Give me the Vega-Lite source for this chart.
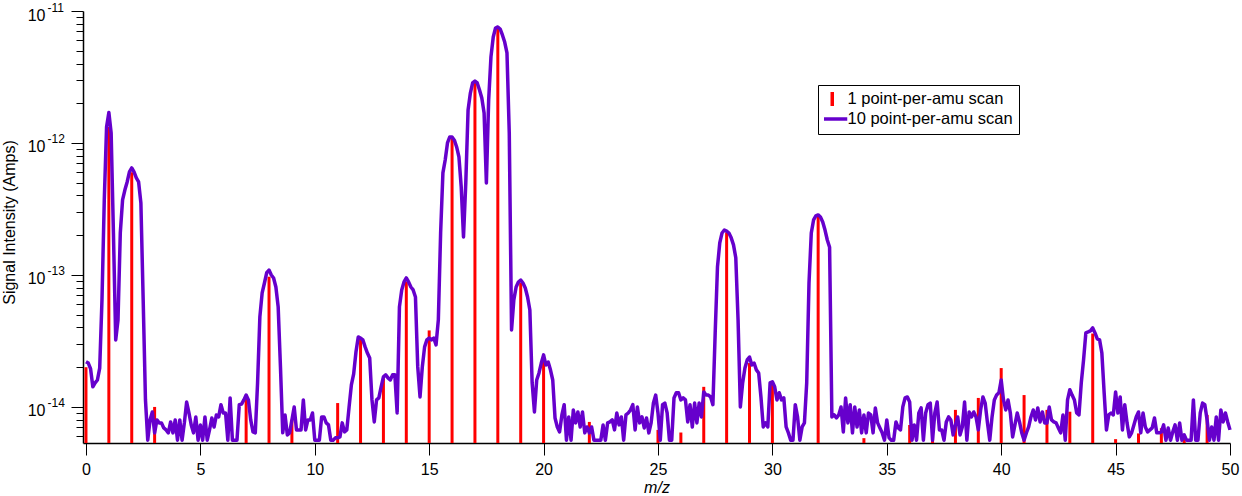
{
"$schema": "https://vega.github.io/schema/vega-lite/v6.json",
"width": 1147, "height": 432,
"autosize": {"type": "none"},
"padding": {"left": 83, "top": 11, "right": 12, "bottom": 53},
"background": "white",
"config": {"view": {"stroke": null}, "font": "Liberation Sans", "axis": {"grid": false}},
"datasets": {
"sticks": [
{"mz":0,"v":2.0e-14},{"mz":1,"v":1.32e-12},{"mz":2,"v":6.0e-13},{"mz":3,"v":1.0e-14},{"mz":7,"v":1.2e-14},{"mz":8,"v":9.7e-14},{"mz":9,"v":8.0e-15},{"mz":11,"v":1.07e-14},{"mz":12,"v":3.3e-14},{"mz":13,"v":1.65e-14},{"mz":14,"v":8.9e-14},{"mz":15,"v":3.8e-14},{"mz":16,"v":1.08e-12},{"mz":17,"v":2.9e-12},{"mz":18,"v":7.4e-12},{"mz":19,"v":8.7e-14},{"mz":20,"v":2.3e-14},{"mz":22,"v":7.7e-15},{"mz":25,"v":6.7e-15},{"mz":26,"v":6.4e-15},{"mz":27,"v":1.42e-14},{"mz":28,"v":2.1e-13},{"mz":29,"v":2.15e-14},{"mz":30,"v":1.47e-14},{"mz":32,"v":2.75e-13},{"mz":34,"v":5.8e-15},{"mz":36,"v":7.3e-15},{"mz":37,"v":6.0e-15},{"mz":38,"v":9.5e-15},{"mz":39,"v":1.17e-14},{"mz":40,"v":1.97e-14},{"mz":41,"v":1.23e-14},{"mz":42,"v":9.5e-15},{"mz":43,"v":9.2e-15},{"mz":44,"v":3.6e-14},{"mz":45,"v":5.7e-15},{"mz":46,"v":6.3e-15},{"mz":47,"v":6.9e-15},{"mz":48,"v":6.1e-15},{"mz":49,"v":8.7e-15}
],
"scan": [
{"mz":0,"v":2.2e-14},{"mz":0.1,"v":2.15e-14},{"mz":0.2,"v":1.95e-14},{"mz":0.3,"v":1.42e-14},{"mz":0.4,"v":1.52e-14},{"mz":0.5,"v":1.6e-14},{"mz":0.6,"v":1.97e-14},{"mz":0.7,"v":6.5e-14},{"mz":0.8,"v":3.7e-13},{"mz":0.9,"v":1.32e-12},
{"mz":1,"v":1.7e-12},{"mz":1.1,"v":1.19e-12},{"mz":1.2,"v":2.08e-13},{"mz":1.3,"v":3.22e-14},{"mz":1.4,"v":4.56e-14},{"mz":1.5,"v":2.08e-13},{"mz":1.6,"v":3.7e-13},{"mz":1.7,"v":4.4e-13},{"mz":1.8,"v":5.07e-13},{"mz":1.9,"v":6.03e-13},
{"mz":2,"v":6.47e-13},{"mz":2.1,"v":6.03e-13},{"mz":2.2,"v":5.43e-13},{"mz":2.3,"v":5.07e-13},{"mz":2.4,"v":3.51e-13},{"mz":2.5,"v":6.47e-14},{"mz":2.6,"v":1.13e-14},{"mz":2.7,"v":5.6e-15},{"mz":2.8,"v":7.97e-15},{"mz":2.9,"v":9.16e-15},
{"mz":3,"v":6.36e-15},{"mz":3.1,"v":7.97e-15},{"mz":3.2,"v":7.57e-15},{"mz":3.3,"v":7.57e-15},{"mz":3.4,"v":6.93e-15},{"mz":3.5,"v":6.7e-15},{"mz":3.6,"v":6.36e-15},{"mz":3.7,"v":7.7e-15},{"mz":3.8,"v":6.36e-15},{"mz":3.9,"v":7.97e-15},
{"mz":4,"v":5.6e-15},{"mz":4.1,"v":7.97e-15},{"mz":4.2,"v":5.6e-15},{"mz":4.3,"v":7.57e-15},{"mz":4.4,"v":1.09e-14},{"mz":4.5,"v":9.0e-15},{"mz":4.6,"v":7.31e-15},{"mz":4.7,"v":6.36e-15},{"mz":4.8,"v":8.4e-15},{"mz":4.9,"v":5.6e-15},
{"mz":5,"v":7.31e-15},{"mz":5.1,"v":5.6e-15},{"mz":5.2,"v":8.4e-15},{"mz":5.3,"v":5.6e-15},{"mz":5.4,"v":6.7e-15},{"mz":5.5,"v":8.25e-15},{"mz":5.6,"v":7.05e-15},{"mz":5.7,"v":8.7e-15},{"mz":5.8,"v":8.4e-15},{"mz":5.9,"v":1.04e-14},
{"mz":6,"v":9.0e-15},{"mz":6.1,"v":9.0e-15},{"mz":6.2,"v":5.6e-15},{"mz":6.3,"v":1.17e-14},{"mz":6.4,"v":5.6e-15},{"mz":6.5,"v":5.6e-15},{"mz":6.6,"v":5.6e-15},{"mz":6.7,"v":1.04e-14},{"mz":6.8,"v":1.05e-14},{"mz":6.9,"v":1.13e-14},
{"mz":7,"v":1.23e-14},{"mz":7.1,"v":1.13e-14},{"mz":7.2,"v":7.97e-15},{"mz":7.3,"v":6.47e-15},{"mz":7.4,"v":6.36e-15},{"mz":7.5,"v":1.52e-14},{"mz":7.6,"v":4.81e-14},{"mz":7.7,"v":7.31e-14},{"mz":7.8,"v":8.69e-14},{"mz":7.9,"v":1.04e-13},
{"mz":8,"v":1.09e-13},{"mz":8.1,"v":1.0e-13},{"mz":8.2,"v":9.49e-14},{"mz":8.3,"v":8.1e-14},{"mz":8.4,"v":5.73e-14},{"mz":8.5,"v":2.01e-14},{"mz":8.6,"v":6.36e-15},{"mz":8.7,"v":8.7e-15},{"mz":8.8,"v":6.14e-15},{"mz":8.9,"v":6.36e-15},
{"mz":9,"v":7.97e-15},{"mz":9.1,"v":1.0e-14},{"mz":9.2,"v":6.7e-15},{"mz":9.3,"v":6.7e-15},{"mz":9.4,"v":6.7e-15},{"mz":9.5,"v":1.13e-14},{"mz":9.6,"v":6.7e-15},{"mz":9.7,"v":7.97e-15},{"mz":9.8,"v":7.97e-15},{"mz":9.9,"v":9.0e-15},
{"mz":10,"v":5.6e-15},{"mz":10.1,"v":5.6e-15},{"mz":10.2,"v":5.6e-15},{"mz":10.3,"v":8.4e-15},{"mz":10.4,"v":8.4e-15},{"mz":10.5,"v":7.57e-15},{"mz":10.6,"v":7.31e-15},{"mz":10.7,"v":5.6e-15},{"mz":10.8,"v":5.6e-15},{"mz":10.9,"v":5.83e-15},
{"mz":11,"v":5.83e-15},{"mz":11.1,"v":5.93e-15},{"mz":11.2,"v":7.57e-15},{"mz":11.3,"v":6.47e-15},{"mz":11.4,"v":6.7e-15},{"mz":11.5,"v":1.0e-14},{"mz":11.6,"v":1.47e-14},{"mz":11.7,"v":1.78e-14},{"mz":11.8,"v":2.61e-14},{"mz":11.9,"v":3.39e-14},
{"mz":12,"v":3.33e-14},{"mz":12.1,"v":3.22e-14},{"mz":12.2,"v":2.85e-14},{"mz":12.3,"v":2.56e-14},{"mz":12.4,"v":2.35e-14},{"mz":12.5,"v":1.13e-14},{"mz":12.6,"v":7.7e-15},{"mz":12.7,"v":1.13e-14},{"mz":12.8,"v":1.17e-14},{"mz":12.9,"v":1.42e-14},
{"mz":13,"v":1.69e-14},{"mz":13.1,"v":1.75e-14},{"mz":13.2,"v":1.66e-14},{"mz":13.3,"v":1.6e-14},{"mz":13.4,"v":1.75e-14},{"mz":13.5,"v":1.75e-14},{"mz":13.6,"v":9.0e-15},{"mz":13.7,"v":5.73e-14},{"mz":13.8,"v":7.7e-14},{"mz":13.9,"v":8.85e-14},
{"mz":14,"v":9.49e-14},{"mz":14.1,"v":8.85e-14},{"mz":14.2,"v":8.1e-14},{"mz":14.3,"v":7.7e-14},{"mz":14.4,"v":6.81e-14},{"mz":14.5,"v":2.01e-14},{"mz":14.6,"v":1.19e-14},{"mz":14.7,"v":2.01e-14},{"mz":14.8,"v":2.85e-14},{"mz":14.9,"v":3.22e-14},
{"mz":15,"v":3.33e-14},{"mz":15.1,"v":3.22e-14},{"mz":15.2,"v":3.33e-14},{"mz":15.3,"v":2.95e-14},{"mz":15.4,"v":4.56e-14},{"mz":15.5,"v":2.08e-13},{"mz":15.6,"v":5.93e-13},{"mz":15.7,"v":7.43e-13},{"mz":15.8,"v":1.0e-12},{"mz":15.9,"v":1.11e-12},
{"mz":16,"v":1.11e-12},{"mz":16.1,"v":1.05e-12},{"mz":16.2,"v":9.33e-13},{"mz":16.3,"v":7.84e-13},{"mz":16.4,"v":4.64e-13},{"mz":16.5,"v":1.94e-13},{"mz":16.6,"v":4.98e-13},{"mz":16.7,"v":1.78e-12},{"mz":16.8,"v":2.39e-12},{"mz":16.9,"v":2.85e-12},
{"mz":17,"v":2.95e-12},{"mz":17.1,"v":2.85e-12},{"mz":17.2,"v":2.52e-12},{"mz":17.3,"v":2.19e-12},{"mz":17.4,"v":1.69e-12},{"mz":17.5,"v":4.98e-13},{"mz":17.6,"v":2.12e-12},{"mz":17.7,"v":4.49e-12},{"mz":17.8,"v":6.35e-12},{"mz":17.9,"v":7.43e-12},
{"mz":18,"v":7.57e-12},{"mz":18.1,"v":7.31e-12},{"mz":18.2,"v":6.58e-12},{"mz":18.3,"v":5.82e-12},{"mz":18.4,"v":4.81e-12},{"mz":18.5,"v":1.19e-12},{"mz":18.6,"v":3.83e-14},{"mz":18.7,"v":6.47e-14},{"mz":18.8,"v":8.1e-14},{"mz":18.9,"v":8.85e-14},
{"mz":19,"v":9.16e-14},{"mz":19.1,"v":8.69e-14},{"mz":19.2,"v":7.97e-14},{"mz":19.3,"v":6.81e-14},{"mz":19.4,"v":5.43e-14},{"mz":19.5,"v":1.52e-14},{"mz":19.6,"v":9.16e-15},{"mz":19.7,"v":1.6e-14},{"mz":19.8,"v":1.81e-14},{"mz":19.9,"v":2.15e-14},
{"mz":20,"v":2.48e-14},{"mz":20.1,"v":2.08e-14},{"mz":20.2,"v":2.19e-14},{"mz":20.3,"v":1.91e-14},{"mz":20.4,"v":1.6e-14},{"mz":20.5,"v":8.25e-15},{"mz":20.6,"v":7.05e-15},{"mz":20.7,"v":6.47e-15},{"mz":20.8,"v":8.7e-15},{"mz":20.9,"v":1.04e-14},
{"mz":21,"v":5.6e-15},{"mz":21.1,"v":8.4e-15},{"mz":21.2,"v":5.6e-15},{"mz":21.3,"v":9.49e-15},{"mz":21.4,"v":7.57e-15},{"mz":21.5,"v":9.16e-15},{"mz":21.6,"v":7.05e-15},{"mz":21.7,"v":9.16e-15},{"mz":21.8,"v":6.36e-15},{"mz":21.9,"v":7.05e-15},
{"mz":22,"v":6.36e-15},{"mz":22.1,"v":7.05e-15},{"mz":22.2,"v":5.6e-15},{"mz":22.3,"v":5.6e-15},{"mz":22.4,"v":5.6e-15},{"mz":22.5,"v":5.6e-15},{"mz":22.6,"v":7.31e-15},{"mz":22.7,"v":5.6e-15},{"mz":22.8,"v":7.57e-15},{"mz":22.9,"v":7.7e-15},
{"mz":23,"v":7.97e-15},{"mz":23.1,"v":6.7e-15},{"mz":23.2,"v":9.0e-15},{"mz":23.3,"v":7.31e-15},{"mz":23.4,"v":8.4e-15},{"mz":23.5,"v":5.6e-15},{"mz":23.6,"v":8.7e-15},{"mz":23.7,"v":9.0e-15},{"mz":23.8,"v":9.49e-15},{"mz":23.9,"v":1.04e-14},
{"mz":24,"v":6.7e-15},{"mz":24.1,"v":1.0e-14},{"mz":24.2,"v":7.57e-15},{"mz":24.3,"v":8.4e-15},{"mz":24.4,"v":6.93e-15},{"mz":24.5,"v":8.25e-15},{"mz":24.6,"v":6.36e-15},{"mz":24.7,"v":7.57e-15},{"mz":24.8,"v":1.07e-14},{"mz":24.9,"v":1.23e-14},
{"mz":25,"v":9.0e-15},{"mz":25.1,"v":5.6e-15},{"mz":25.2,"v":1.04e-14},{"mz":25.3,"v":1.07e-14},{"mz":25.4,"v":9.0e-15},{"mz":25.5,"v":5.6e-15},{"mz":25.6,"v":5.6e-15},{"mz":25.7,"v":1.17e-14},{"mz":25.8,"v":1.28e-14},{"mz":25.9,"v":1.28e-14},
{"mz":26,"v":1.13e-14},{"mz":26.1,"v":1.17e-14},{"mz":26.2,"v":1.13e-14},{"mz":26.3,"v":7.7e-15},{"mz":26.4,"v":1.04e-14},{"mz":26.5,"v":7.05e-15},{"mz":26.6,"v":1.07e-14},{"mz":26.7,"v":7.57e-15},{"mz":26.8,"v":1.07e-14},{"mz":26.9,"v":8.4e-15},
{"mz":27,"v":1.3e-14},{"mz":27.1,"v":1.23e-14},{"mz":27.2,"v":1.23e-14},{"mz":27.3,"v":1.19e-14},{"mz":27.4,"v":1.04e-14},{"mz":27.5,"v":3.64e-14},{"mz":27.6,"v":1.15e-13},{"mz":27.7,"v":1.75e-13},{"mz":27.8,"v":2.08e-13},{"mz":27.9,"v":2.19e-13},
{"mz":28,"v":2.15e-13},{"mz":28.1,"v":2.08e-13},{"mz":28.2,"v":1.91e-13},{"mz":28.3,"v":1.69e-13},{"mz":28.4,"v":1.35e-13},{"mz":28.5,"v":4.56e-14},{"mz":28.6,"v":1.0e-14},{"mz":28.7,"v":1.52e-14},{"mz":28.8,"v":1.97e-14},{"mz":28.9,"v":2.27e-14},
{"mz":29,"v":2.39e-14},{"mz":29.1,"v":2.08e-14},{"mz":29.2,"v":2.15e-14},{"mz":29.3,"v":1.91e-14},{"mz":29.4,"v":1.81e-14},{"mz":29.5,"v":1.19e-14},{"mz":29.6,"v":7.05e-15},{"mz":29.7,"v":7.57e-15},{"mz":29.8,"v":7.05e-15},{"mz":29.9,"v":1.52e-14},
{"mz":30,"v":1.55e-14},{"mz":30.1,"v":1.42e-14},{"mz":30.2,"v":1.13e-14},{"mz":30.3,"v":1.28e-14},{"mz":30.4,"v":1.13e-14},{"mz":30.5,"v":1.17e-14},{"mz":30.6,"v":7.05e-15},{"mz":30.7,"v":6.36e-15},{"mz":30.8,"v":5.6e-15},{"mz":30.9,"v":5.6e-15},
{"mz":31,"v":1.04e-14},{"mz":31.1,"v":8.4e-15},{"mz":31.2,"v":5.6e-15},{"mz":31.3,"v":7.05e-15},{"mz":31.4,"v":7.57e-15},{"mz":31.5,"v":1.52e-14},{"mz":31.6,"v":8.69e-14},{"mz":31.7,"v":2.08e-13},{"mz":31.8,"v":2.61e-13},{"mz":31.9,"v":2.8e-13},
{"mz":32,"v":2.85e-13},{"mz":32.1,"v":2.75e-13},{"mz":32.2,"v":2.52e-13},{"mz":32.3,"v":2.19e-13},{"mz":32.4,"v":1.84e-13},{"mz":32.5,"v":1.62e-13},{"mz":32.6,"v":8.4e-15},{"mz":32.7,"v":8.7e-15},{"mz":32.8,"v":8.25e-15},{"mz":32.9,"v":8.7e-15},
{"mz":33,"v":1.0e-14},{"mz":33.1,"v":6.47e-15},{"mz":33.2,"v":1.17e-14},{"mz":33.3,"v":7.57e-15},{"mz":33.4,"v":1.04e-14},{"mz":33.5,"v":6.36e-15},{"mz":33.6,"v":1.0e-14},{"mz":33.7,"v":7.05e-15},{"mz":33.8,"v":9.49e-15},{"mz":33.9,"v":6.36e-15},
{"mz":34,"v":8.7e-15},{"mz":34.1,"v":6.36e-15},{"mz":34.2,"v":9.0e-15},{"mz":34.3,"v":8.7e-15},{"mz":34.4,"v":6.36e-15},{"mz":34.5,"v":9.83e-15},{"mz":34.6,"v":7.57e-15},{"mz":34.7,"v":6.93e-15},{"mz":34.8,"v":6.36e-15},{"mz":34.9,"v":5.6e-15},
{"mz":35,"v":7.97e-15},{"mz":35.1,"v":5.83e-15},{"mz":35.2,"v":5.6e-15},{"mz":35.3,"v":5.6e-15},{"mz":35.4,"v":7.7e-15},{"mz":35.5,"v":6.93e-15},{"mz":35.6,"v":6.7e-15},{"mz":35.7,"v":1.0e-14},{"mz":35.8,"v":1.17e-14},{"mz":35.9,"v":1.19e-14},
{"mz":36,"v":1.09e-14},{"mz":36.1,"v":5.6e-15},{"mz":36.2,"v":7.31e-15},{"mz":36.3,"v":5.6e-15},{"mz":36.4,"v":9.0e-15},{"mz":36.5,"v":9.83e-15},{"mz":36.6,"v":5.6e-15},{"mz":36.7,"v":9.0e-15},{"mz":36.8,"v":1.04e-14},{"mz":36.9,"v":1.07e-14},
{"mz":37,"v":5.6e-15},{"mz":37.1,"v":9.0e-15},{"mz":37.2,"v":1.09e-14},{"mz":37.3,"v":6.7e-15},{"mz":37.4,"v":6.7e-15},{"mz":37.5,"v":5.6e-15},{"mz":37.6,"v":7.7e-15},{"mz":37.7,"v":8.4e-15},{"mz":37.8,"v":7.97e-15},{"mz":37.9,"v":6.14e-15},
{"mz":38,"v":7.31e-15},{"mz":38.1,"v":8.4e-15},{"mz":38.2,"v":6.14e-15},{"mz":38.3,"v":7.05e-15},{"mz":38.4,"v":1.09e-14},{"mz":38.5,"v":5.6e-15},{"mz":38.6,"v":9.16e-15},{"mz":38.7,"v":8.4e-15},{"mz":38.8,"v":9.16e-15},{"mz":38.9,"v":8.4e-15},
{"mz":39,"v":6.7e-15},{"mz":39.1,"v":9.49e-15},{"mz":39.2,"v":1.19e-14},{"mz":39.3,"v":1.07e-14},{"mz":39.4,"v":7.57e-15},{"mz":39.5,"v":5.6e-15},{"mz":39.6,"v":8.4e-15},{"mz":39.7,"v":1.13e-14},{"mz":39.8,"v":1.23e-14},{"mz":39.9,"v":1.28e-14},
{"mz":40,"v":1.6e-14},{"mz":40.1,"v":1.13e-14},{"mz":40.2,"v":9.49e-15},{"mz":40.3,"v":1.13e-14},{"mz":40.4,"v":9.0e-15},{"mz":40.5,"v":5.93e-15},{"mz":40.6,"v":7.31e-15},{"mz":40.7,"v":9.0e-15},{"mz":40.8,"v":7.7e-15},{"mz":40.9,"v":6.36e-15},
{"mz":41,"v":5.6e-15},{"mz":41.1,"v":6.36e-15},{"mz":41.2,"v":7.05e-15},{"mz":41.3,"v":8.4e-15},{"mz":41.4,"v":9.49e-15},{"mz":41.5,"v":7.97e-15},{"mz":41.6,"v":9.83e-15},{"mz":41.7,"v":7.7e-15},{"mz":41.8,"v":9.16e-15},{"mz":41.9,"v":7.57e-15},
{"mz":42,"v":7.57e-15},{"mz":42.1,"v":1.0e-14},{"mz":42.2,"v":7.97e-15},{"mz":42.3,"v":7.7e-15},{"mz":42.4,"v":7.57e-15},{"mz":42.5,"v":6.93e-15},{"mz":42.6,"v":6.36e-15},{"mz":42.7,"v":8.7e-15},{"mz":42.8,"v":5.6e-15},{"mz":42.9,"v":1.13e-14},
{"mz":43,"v":1.35e-14},{"mz":43.1,"v":1.23e-14},{"mz":43.2,"v":1.13e-14},{"mz":43.3,"v":9.0e-15},{"mz":43.4,"v":8.7e-15},{"mz":43.5,"v":1.52e-14},{"mz":43.6,"v":2.27e-14},{"mz":43.7,"v":3.64e-14},{"mz":43.8,"v":3.7e-14},{"mz":43.9,"v":3.77e-14},
{"mz":44,"v":3.97e-14},{"mz":44.1,"v":3.64e-14},{"mz":44.2,"v":3.28e-14},{"mz":44.3,"v":3.22e-14},{"mz":44.4,"v":2.56e-14},{"mz":44.5,"v":1.28e-14},{"mz":44.6,"v":6.7e-15},{"mz":44.7,"v":8.7e-15},{"mz":44.8,"v":9.0e-15},{"mz":44.9,"v":8.7e-15},
{"mz":45,"v":1.3e-14},{"mz":45.1,"v":9.0e-15},{"mz":45.2,"v":1.19e-14},{"mz":45.3,"v":6.7e-15},{"mz":45.4,"v":1.04e-14},{"mz":45.5,"v":7.57e-15},{"mz":45.6,"v":5.93e-15},{"mz":45.7,"v":6.36e-15},{"mz":45.8,"v":7.31e-15},{"mz":45.9,"v":8.4e-15},
{"mz":46,"v":9.16e-15},{"mz":46.1,"v":6.36e-15},{"mz":46.2,"v":9.0e-15},{"mz":46.3,"v":7.05e-15},{"mz":46.4,"v":6.47e-15},{"mz":46.5,"v":6.7e-15},{"mz":46.6,"v":6.93e-15},{"mz":46.7,"v":8.25e-15},{"mz":46.8,"v":6.36e-15},{"mz":46.9,"v":6.36e-15},
{"mz":47,"v":6.47e-15},{"mz":47.1,"v":7.31e-15},{"mz":47.2,"v":5.6e-15},{"mz":47.3,"v":6.93e-15},{"mz":47.4,"v":5.6e-15},{"mz":47.5,"v":6.47e-15},{"mz":47.6,"v":7.31e-15},{"mz":47.7,"v":5.6e-15},{"mz":47.8,"v":7.57e-15},{"mz":47.9,"v":5.6e-15},
{"mz":48,"v":6.14e-15},{"mz":48.1,"v":5.6e-15},{"mz":48.2,"v":5.6e-15},{"mz":48.3,"v":5.6e-15},{"mz":48.4,"v":1.13e-14},{"mz":48.5,"v":5.6e-15},{"mz":48.6,"v":5.6e-15},{"mz":48.7,"v":9.0e-15},{"mz":48.8,"v":1.07e-14},{"mz":48.9,"v":1.04e-14},
{"mz":49,"v":7.97e-15},{"mz":49.1,"v":5.6e-15},{"mz":49.2,"v":7.05e-15},{"mz":49.3,"v":5.6e-15},{"mz":49.4,"v":8.4e-15},{"mz":49.5,"v":5.6e-15},{"mz":49.6,"v":9.49e-15},{"mz":49.7,"v":7.7e-15},{"mz":49.8,"v":9.0e-15},{"mz":49.9,"v":7.7e-15},
{"mz":50,"v":6.7e-15}
]
},
"encoding": {
  "x": {"field": "mz", "type": "quantitative",
    "scale": {"domain": [-0.13, 50], "nice": false, "zero": false},
    "axis": {"values": [0,5,10,15,20,25,30,35,40,45,50], "tickSize": 12, "tickColor": "#000", "tickWidth": 1,
      "domainColor": "#000", "domainWidth": 1.5, "labelFontSize": 16, "labelFont": "Liberation Sans", "labelColor": "#000",
      "labelPadding": 6, "labelFlush": false, "labelOverlap": false, "title": "m/z", "titleFont": "Liberation Sans",
      "titleFontStyle": "italic", "titleFontWeight": "normal", "titleFontSize": 16, "titleColor": "#000",
      "titleY": 44, "titleBaseline": "middle", "grid": false}}
},
"resolve": {"axis": {"y": "independent"}},
"layer": [
  {"data": {"name": "sticks"},
   "mark": {"type": "rule", "strokeWidth": 3, "strokeCap": "butt"},
   "encoding": {
     "y": {"field": "v", "type": "quantitative",
       "scale": {"type": "log", "domain": [5.33e-15, 1e-11], "nice": false},
       "axis": {"orient": "left", "values": [1e-14, 1e-13, 1e-12, 1e-11], "tickSize": 12, "tickColor": "#000", "tickWidth": 1,
         "domainColor": "#000", "domainWidth": 1.5, "labelExpr": "'10'", "labelFontSize": 16, "labelFont": "Liberation Sans",
         "labelColor": "#000", "labelPadding": 26, "labelOffset": 4, "labelAlign": "right", "labelBaseline": "middle",
         "labelOverlap": false, "labelFlush": false,
         "title": "Signal Intensity (Amps)", "titleFont": "Liberation Sans", "titleFontSize": 16, "titleFontWeight": "normal",
         "titleColor": "#000", "titleX": -74, "titleY": 211, "titleAngle": -90, "titleAlign": "center", "titleBaseline": "middle", "grid": false}},
     "y2": {"datum": 5.33e-15},
     "color": {"datum": "1 point-per-amu scan", "type": "nominal",
       "scale": {"domain": ["1 point-per-amu scan", "10 point-per-amu scan"], "range": ["#ff0000", "#6600cc"]},
       "legend": {"orient": "none", "legendX": 735, "legendY": 74, "title": null, "strokeColor": "#000", "fillColor": "#fff",
         "padding": 6, "symbolSize": 900, "symbolStrokeWidth": 3, "symbolType": "stroke", "labelFontSize": 16.5,
         "labelFont": "Liberation Sans", "labelColor": "#000", "labelOffset": 7, "labelLimit": 400, "clipHeight": 16, "rowPadding": 3, "cornerRadius": 0,
         "encode": {"symbols": {"update": {
           "shape": {"signal": "datum.value === '1 point-per-amu scan' ? 'M0,-0.47L0,0.47' : 'stroke'"},
           "fill": {"value": "transparent"},
           "strokeWidth": {"signal": "datum.value === '1 point-per-amu scan' ? 3.5 : 3.5"}}}}}}
   }},
  {"data": {"name": "scan"},
   "mark": {"type": "line", "strokeWidth": 3.5, "strokeJoin": "round"},
   "encoding": {
     "y": {"field": "v", "type": "quantitative",
       "scale": {"type": "log", "domain": [5.33e-15, 1e-11], "nice": false},
       "axis": {"orient": "left", "values": [6e-15,7e-15,8e-15,9e-15,2e-14,3e-14,4e-14,5e-14,6e-14,7e-14,8e-14,9e-14,2e-13,3e-13,4e-13,5e-13,6e-13,7e-13,8e-13,9e-13,2e-12,3e-12,4e-12,5e-12,6e-12,7e-12,8e-12,9e-12],
         "tickSize": 7, "tickColor": "#000", "tickWidth": 1, "labels": false, "domain": false, "title": null, "grid": false}},
     "color": {"datum": "10 point-per-amu scan", "type": "nominal",
       "scale": {"domain": ["1 point-per-amu scan", "10 point-per-amu scan"], "range": ["#ff0000", "#6600cc"]}}
   }},
  {"data": {"name": "sticks"},
   "mark": {"type": "point", "opacity": 0},
   "encoding": {
     "y": {"field": "v", "type": "quantitative",
       "scale": {"type": "log", "domain": [5.33e-15, 1e-11], "nice": false},
       "axis": {"orient": "left", "values": [1e-14, 1e-13, 1e-12, 1e-11], "ticks": false, "tickSize": 0, "domain": false, "title": null, "grid": false,
         "labelExpr": "datum.value < 5e-14 ? '-14' : datum.value < 5e-13 ? '-13' : datum.value < 5e-12 ? '-12' : '-11'",
         "labelAlign": "left", "labelBaseline": "middle", "labelPadding": 36, "labelOffset": -4, "labelFontSize": 12,
         "labelFont": "Liberation Sans", "labelColor": "#000", "labelOverlap": false, "labelFlush": false}}
   }}
]
}
